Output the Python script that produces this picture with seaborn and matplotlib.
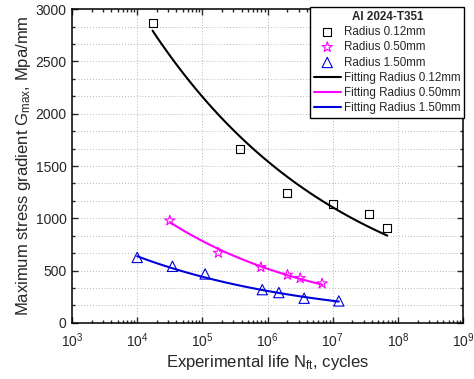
import numpy as np
import pandas as pd
import matplotlib
matplotlib.use("Agg")
import matplotlib.pyplot as plt
import seaborn as sns
from matplotlib.ticker import MultipleLocator, LogLocator, NullFormatter

# data
life_012 = [1.72e4, 3.73e5, 1.98e6, 1.02e7, 3.56e7, 6.87e7]
grad_012 = [2869, 1662, 1245, 1134, 1041, 911]

life_050 = [3.16e4, 1.76e5, 7.9e5, 2.02e6, 3.16e6, 6.87e6]
grad_050 = [978, 669, 532, 459, 427, 376]

life_150 = [1.0e4, 3.47e4, 1.1e5, 8.3e5, 1.49e6, 3.64e6, 1.24e7]
grad_150 = [626, 541, 468, 318, 290, 236, 210]

# power law fits G = a * N^b
fit_a = [11570, 6190, 2780]
fit_b = [-0.1457, -0.1796, -0.1599]

radius_labels = ["Radius 0.12mm", "Radius 0.50mm", "Radius 1.50mm"]
colors = ["black", "#ff00ff", "#0000dd"]
markers = ["s", "*", "^"]
msizes = [32, 60, 55]

sns.set_style("ticks")
plt.rcParams["font.family"] = ["Liberation Sans", "DejaVu Sans"]
plt.rcParams["mathtext.default"] = "regular"

fig, ax = plt.subplots(figsize=(4.74, 3.79), dpi=100)
fig.subplots_adjust(left=0.152, right=0.977, top=0.976, bottom=0.148)

series = [(life_012, grad_012), (life_050, grad_050), (life_150, grad_150)]

# scatter points
for (N, G), lab, c, m, s in zip(series, radius_labels, colors, markers, msizes):
    df = pd.DataFrame({"N": N, "G": G})
    sns.scatterplot(data=df, x="N", y="G", ax=ax, marker=m, s=s,
                    facecolor="none", edgecolor=c, linewidth=0.8,
                    label=lab, zorder=4)

# fitted curves
for (N, G), a, b, lab, c in zip(series, fit_a, fit_b, radius_labels, colors):
    nn = np.logspace(np.log10(N[0]), np.log10(N[-1]), 120)
    fit_df = pd.DataFrame({"N": nn, "G": a * nn ** b})
    sns.lineplot(data=fit_df, x="N", y="G", ax=ax, color=c, lw=1.5,
                 label="Fitting " + lab, zorder=3)

ax.set_xscale("log")
ax.set_xlim(1e3, 1e9)
ax.set_ylim(0, 3000)
ax.yaxis.set_major_locator(MultipleLocator(500))
ax.yaxis.set_minor_locator(MultipleLocator(500 / 3))
ax.xaxis.set_major_locator(LogLocator(base=10, numticks=10))
ax.xaxis.set_minor_locator(LogLocator(base=10, subs=np.arange(2, 10), numticks=12))
ax.xaxis.set_minor_formatter(NullFormatter())

ax.grid(True, which="major", color="#b8b8b8", linestyle=(0, (1, 2)), lw=0.7)
ax.grid(True, which="minor", axis="y", color="#b8b8b8", linestyle=(0, (1, 2)), lw=0.7)

ax.tick_params(which="both", direction="in", top=True, right=True, width=1)
ax.tick_params(which="major", length=4.5, labelsize=10, pad=4)
ax.tick_params(axis="x", which="major", pad=6)
ax.tick_params(which="minor", length=2.5)
for sp in ax.spines.values():
    sp.set_linewidth(1.1)
    sp.set_color("black")

ax.set_xlabel("Experimental life N$_{ft}$, cycles", fontsize=12, labelpad=2)
ax.set_ylabel("Maximum stress gradient G$_{max}$, Mpa/mm", fontsize=12, labelpad=2)

leg = ax.legend(loc="upper right", bbox_to_anchor=(1.003, 1.006), fontsize=8.4,
                title="Al 2024-T351", title_fontproperties={"weight": "bold", "size": 8.4},
                frameon=True, fancybox=False, framealpha=1, edgecolor="black",
                borderpad=0.3, labelspacing=0.28, handlelength=2.3,
                handletextpad=0.3, borderaxespad=0, scatterpoints=1)
leg.get_frame().set_linewidth(1.0)
leg.set_zorder(10)

plt.savefig("out.png", dpi=100)
